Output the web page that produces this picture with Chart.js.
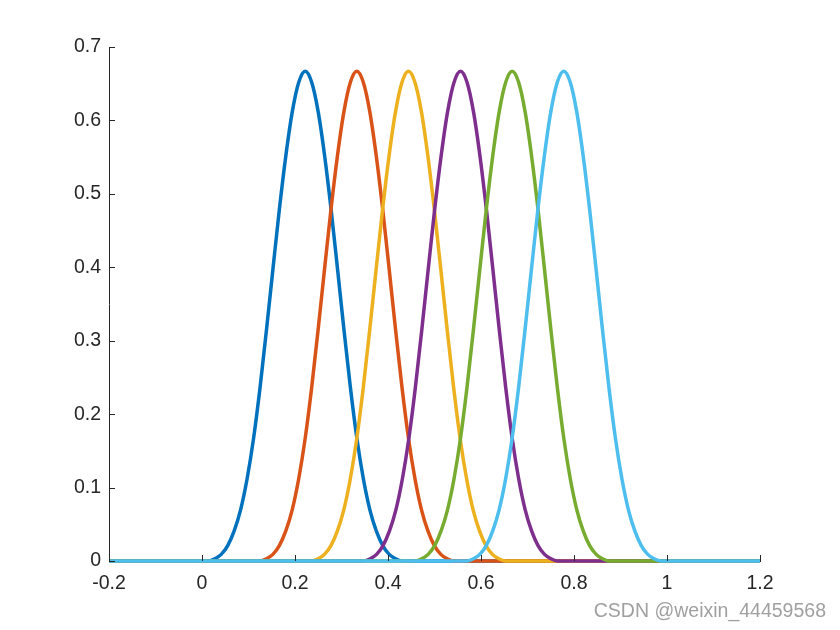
<!DOCTYPE html>
<html>
<head>
<meta charset="utf-8">
<script src="https://cdn.jsdelivr.net/npm/chart.js@4.4.1/dist/chart.umd.min.js"></script>
<style>
  html, body { margin: 0; padding: 0; background: #fff; }
  #wrap { position: relative; width: 840px; height: 630px; }
  #mark {
    position: absolute; right: 14px; top: 599px;
    font: 19.5px "Liberation Sans", Arial, sans-serif; color: #a0a0a0;
  }
</style>
</head>
<body>
<div id="wrap">
  <canvas id="bumps" width="840" height="630"></canvas>
  <div id="mark">CSDN @weixin_44459568</div>
</div>
<script>
// axis ticks
const xTicks = [-0.2, 0, 0.2, 0.4, 0.6, 0.8, 1, 1.2];
const yTicks = [0, 0.1, 0.2, 0.3, 0.4, 0.5, 0.6, 0.7];

// peak position of each curve
const peaks = [0.222, 0.333, 0.444, 0.556, 0.667, 0.778];

// sample offsets from the peak, and the bump height read at each one
const offsets = [
  -0.2222, -0.2083, -0.1944, -0.1806, -0.1667, -0.1528, -0.1389, -0.1250,
  -0.1111, -0.0972, -0.0833, -0.0694, -0.0556, -0.0417, -0.0278, -0.0139,
  0,
  0.0139, 0.0278, 0.0417, 0.0556, 0.0694, 0.0833, 0.0972, 0.1111,
  0.1250, 0.1389, 0.1528, 0.1667, 0.1806, 0.1944, 0.2083, 0.2222
];
const bumpY = [
  0, 0.000, 0.003, 0.009, 0.021, 0.041, 0.070, 0.112,
  0.167, 0.236, 0.315, 0.398, 0.479, 0.552, 0.612, 0.652,
  0.667,
  0.652, 0.612, 0.552, 0.479, 0.398, 0.315, 0.236, 0.167,
  0.112, 0.070, 0.041, 0.021, 0.009, 0.003, 0.000, 0
];

const colors = ['#0072BD', '#D95319', '#EDB120', '#7E2F8E', '#77AC30', '#4DBEEE'];

function curvePoints(peak) {
  const pts = [{ x: xTicks[0], y: 0 }];
  offsets.forEach((off, i) => pts.push({ x: peak + off, y: bumpY[i] }));
  pts.push({ x: xTicks[xTicks.length - 1], y: 0 });
  return pts;
}

const axisColor = '#262626';
const fontSpec = { family: '"Liberation Sans", Arial, sans-serif', size: 19.5 };

// MATLAB style ticks pointing into the plot
const inwardTicks = {
  id: 'inwardTicks',
  afterDraw(chart) {
    const { ctx, chartArea, scales } = chart;
    ctx.save();
    ctx.strokeStyle = axisColor;
    ctx.lineWidth = 1;
    ctx.beginPath();
    xTicks.forEach((v) => {
      const px = Math.round(scales.x.getPixelForValue(v)) + 0.5;
      ctx.moveTo(px, chartArea.bottom);
      ctx.lineTo(px, chartArea.bottom - 6);
    });
    yTicks.forEach((v) => {
      const py = Math.round(scales.y.getPixelForValue(v)) + 0.5;
      ctx.moveTo(chartArea.left, py);
      ctx.lineTo(chartArea.left + 6, py);
    });
    ctx.stroke();
    ctx.restore();
  }
};

const fmt = (v) => String(Number(v.toFixed(1)));

new Chart(document.getElementById('bumps'), {
  type: 'line',
  data: {
    datasets: peaks.map((p, i) => ({
      data: curvePoints(p),
      borderColor: colors[i],
      borderWidth: 3.5,
      pointRadius: 0,
      fill: false,
      clip: false,
      cubicInterpolationMode: 'monotone',
      order: peaks.length - i
    }))
  },
  options: {
    responsive: false,
    devicePixelRatio: 1,
    animation: false,
    layout: { padding: { top: 47, right: 80, left: 0, bottom: 0 } },
    plugins: { legend: { display: false }, tooltip: { enabled: false } },
    scales: {
      x: {
        type: 'linear',
        min: -0.2,
        max: 1.2,
        afterBuildTicks: (s) => { s.ticks = xTicks.map((v) => ({ value: v })); },
        afterFit: (s) => { s.height = 69; },
        grid: { drawOnChartArea: false, drawTicks: false },
        border: { display: true, color: axisColor, width: 1 },
        ticks: { color: axisColor, font: fontSpec, padding: 11, maxRotation: 0, callback: fmt }
      },
      y: {
        type: 'linear',
        min: 0,
        max: 0.7,
        afterBuildTicks: (s) => { s.ticks = yTicks.map((v) => ({ value: v })); },
        afterFit: (s) => { s.width = 109; },
        grid: { drawOnChartArea: false, drawTicks: false },
        border: { display: true, color: axisColor, width: 1 },
        ticks: { color: axisColor, font: fontSpec, padding: 8, callback: fmt }
      }
    }
  },
  plugins: [inwardTicks]
});
</script>
</body>
</html>
